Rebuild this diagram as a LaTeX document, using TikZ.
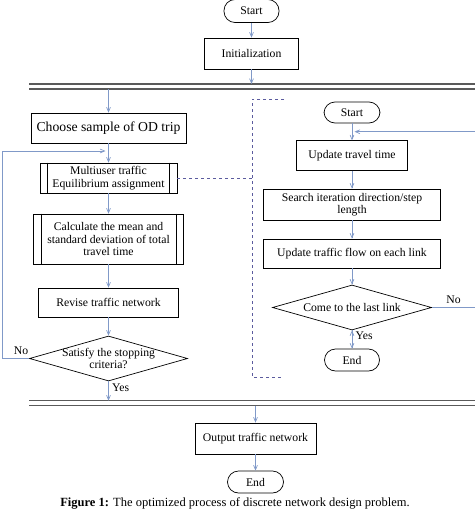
\documentclass[tikz,border=0pt]{standalone}
\usepackage{fontspec}
\setmainfont{Liberation Serif}
\usetikzlibrary{arrows,shapes,calc,positioning}
\definecolor{arrowblue}{HTML}{8099C8}
\definecolor{bargray}{HTML}{5A5A5A}
\definecolor{dashblue}{HTML}{5B5B9E}

\begin{document}
\begin{tikzpicture}[x=1pt,y=-1pt,>=angle 45,font=\fontsize{11.7}{12.5}\selectfont,
        box/.style={rectangle,draw=black,line width=0.7pt,align=center,inner sep=0pt},
        term/.style={box,rounded corners=11pt,minimum width=56pt,minimum height=22pt},
        dia/.style={diamond,draw=black,line width=0.7pt,inner sep=0pt,minimum width=158pt,minimum height=45pt},
        arr/.style={->,draw=arrowblue,line width=0.7pt},
        dline/.style={draw=bargray,line width=1.3pt},
        dashline/.style={draw=dashblue,dashed,line width=0.8pt}]

        \useasboundingbox (0,0) rectangle (474,511);

        % main program
        \node [term,minimum width=55pt,minimum height=23pt] (start1) at (251.5,11) {Start};
        \node [box,minimum width=94pt,minimum height=31pt]  (init) [below of=start1, node distance=42.5pt] {Initialization};

        \coordinate (y1) at (0,84);
        \coordinate (y2) at (0,89);
        \coordinate (y3) at (0,400.7);
        \coordinate (y4) at (0,405.7);
        \draw[dline] (29,84) -- (480,84);
        \draw[dline] (29,89) -- (480,89);
        \draw[dline] (29,400.7) -- (480,400.7);
        \draw[dline] (29,405.7) -- (480,405.7);

        % upper level
        \node [box,minimum width=155pt,minimum height=30pt,font=\fontsize{13.7}{15}\selectfont] (choose) at (108.5,128) {Choose sample of OD trip};
        \node [box,minimum width=137pt,minimum height=30pt] (multi)  [below of=choose, node distance=50pt]   {Multiuser traffic\\Equilibrium assignment};
        \node [box,minimum width=150pt,minimum height=50pt] (calc)   [below of=multi,  node distance=61pt]   {Calculate the mean and\\standard deviation of total\\travel time};
        \node [box,minimum width=140pt,minimum height=29pt] (revise) [below of=calc,   node distance=63.5pt] {Revise traffic network};
        \node [dia]                                         (sat)    [below of=revise, node distance=56pt]   {};
        \node [align=center] at (sat) {Satisfy the stopping\\criteria?};

        \foreach \n in {multi,calc}{
          \draw[line width=0.7pt] ([xshift=8pt]\n.north west) -- ([xshift=8pt]\n.south west);
          \draw[line width=0.7pt] ([xshift=-8pt]\n.north east) -- ([xshift=-8pt]\n.south east);
        }

        % lower level
        \node [term,minimum width=56pt,minimum height=21pt] (start2) at (352,112.5) {Start};
        \node [box,minimum width=111pt,minimum height=29.5pt] (upd)    [below of=start2, node distance=43pt] {Update travel time};
        \node [box,minimum width=177pt,minimum height=31pt]   (search) [below of=upd,    node distance=49pt] {Search iteration direction/step\\length};
        \node [box,minimum width=177pt,minimum height=29pt]   (flow)   [below of=search, node distance=49pt] {Update traffic flow on each link};
        \node [dia,minimum width=159pt]                       (last)   [below of=flow,   node distance=54pt] {};
        \node at (last) {Come to the last link};
        \node [term,minimum width=55pt,minimum height=22pt]   (end2)   [below of=last,   node distance=52.5pt] {End};

        % output
        \node [box,minimum width=121pt,minimum height=31pt] (out)  at (255.5,438.5) {Output traffic network};
        \node [term,minimum width=56pt,minimum height=22pt] (end1) [below of=out, node distance=43.5pt] {End};

        \coordinate (fb1) at (105.5,151);
        \coordinate (fb2) at (354.5,131.7);
        \coordinate (dtop) at (252,99);
        \coordinate (dbot) at (252,377);

        \path[arr]
          (start1) edge (init)
          (init.south) edge (init.south |- y1)
          (choose.north |- y2) edge (choose.north)
          (choose) edge (multi)
          (multi) edge (calc)
          (calc) edge (revise)
          (revise) edge (sat.north)
          (sat.south) edge node[right,pos=.35,text=black] {Yes} (sat.south |- y3)
          (out.north |- y4) edge (out)
          (out) edge (end1)
          (start2) edge (upd)
          (upd) edge (search)
          (search) edge (flow)
          (flow) edge (last.north)
          (last.south) edge node[right,pos=.3,text=black] {Yes} (end2)
        ;
        \draw[arr] (sat.west) -- node[above,pos=.3,text=black] {No} (2,358.5) |- (fb1);
        \draw[arr] (last.east) -- node[above,pos=.45,text=black] {No} (480,307.5) |- (fb2);

        \draw[dashline] (multi.east) -- (multi.east -| dtop);
        \draw[dashline] (dtop) ++(32,0) -- (dtop) -- (dbot) -- ++(31,0);

        \node [anchor=base,inner sep=0pt,font=\fontsize{12.5}{14}\selectfont] (cap) at (235,506.5) {\textbf{Figure 1:} The optimized process of discrete network design problem.};
\end{tikzpicture}
\end{document}
